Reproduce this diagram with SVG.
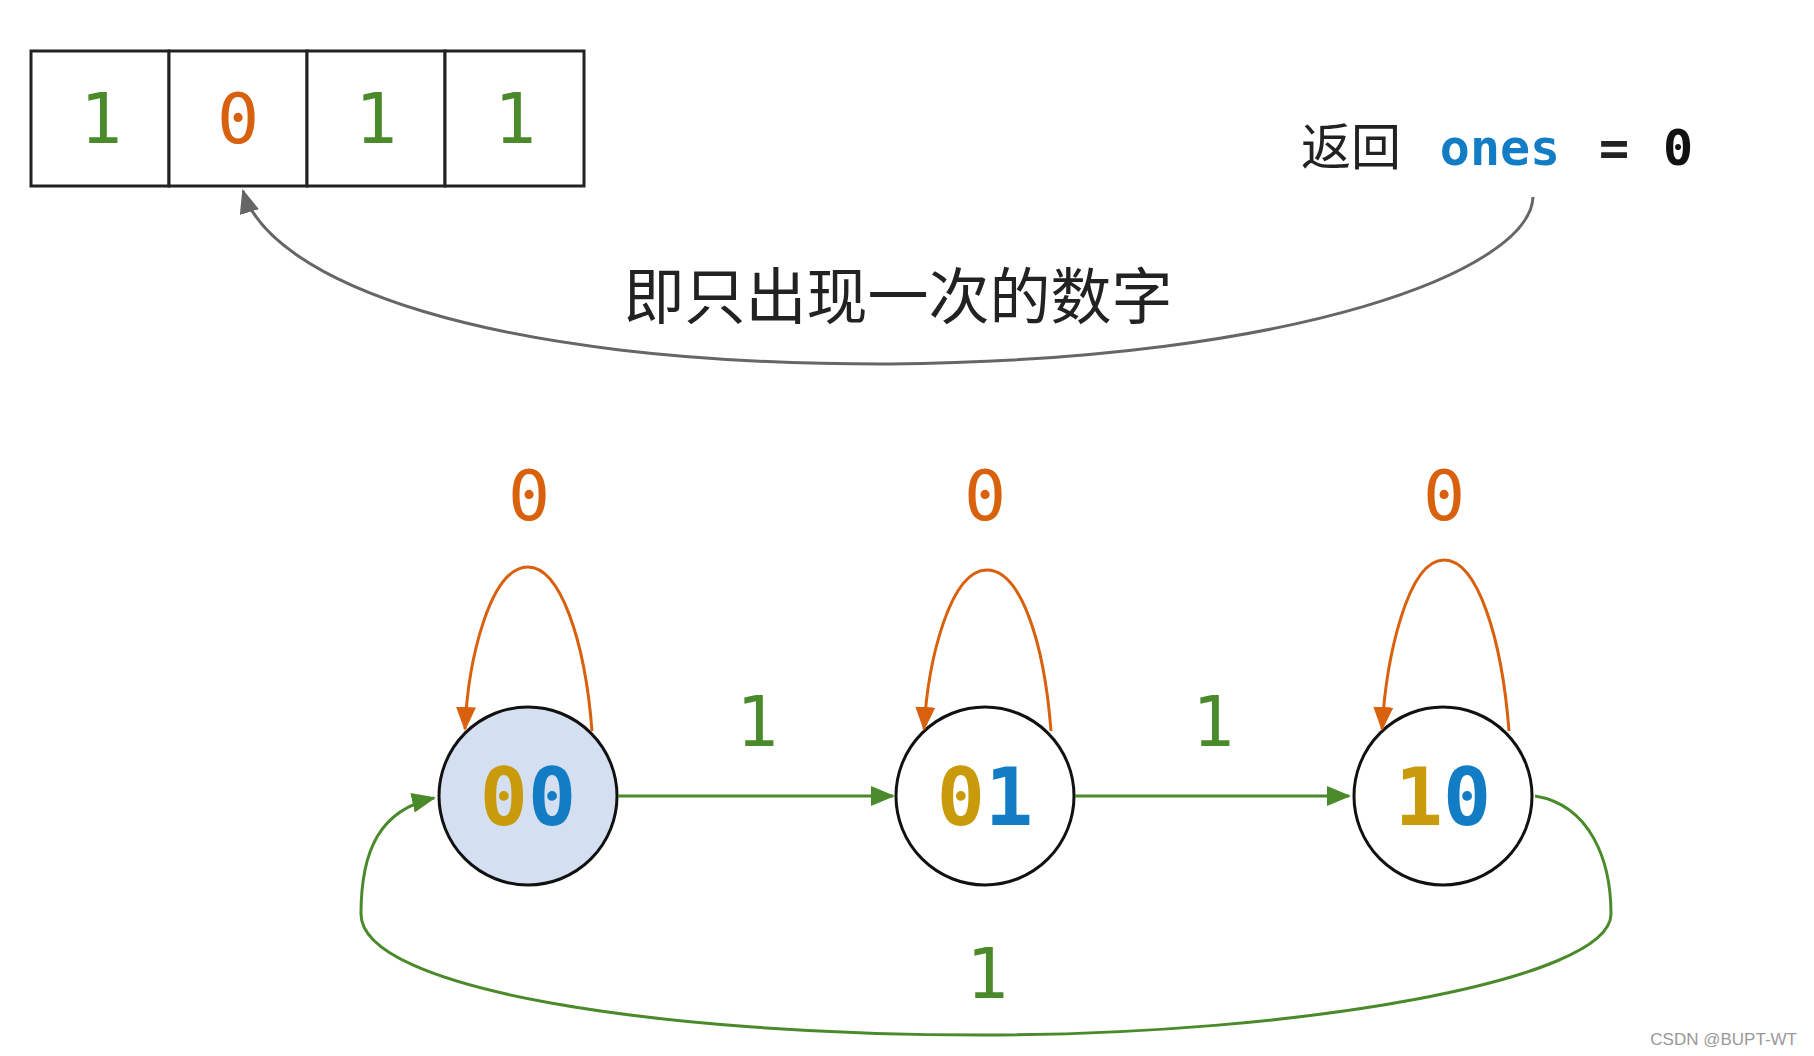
<svg xmlns="http://www.w3.org/2000/svg" width="1814" height="1056" viewBox="0 0 1814 1056">
<style>
.m{font-family:"DejaVu Sans Mono",monospace;text-anchor:middle}
.g{fill:#4a8a2a}.o{fill:#d9600c}.b{fill:#127cc4}.y{fill:#c99a0a}
.node{stroke:#111;stroke-width:3}
.cell{fill:#fff;stroke:#222;stroke-width:3}
</style>
<defs>
<marker id="g" viewBox="0 0 24 20" refX="22" refY="10" markerWidth="24" markerHeight="20" orient="auto" markerUnits="userSpaceOnUse"><path d="M0,0L24,10L0,20z" fill="#4a8a2a"/></marker>
<marker id="o" viewBox="0 0 24 20" refX="22" refY="10" markerWidth="24" markerHeight="20" orient="auto" markerUnits="userSpaceOnUse"><path d="M0,0L24,10L0,20z" fill="#d9600c"/></marker>
<marker id="k" viewBox="0 0 24 20" refX="22" refY="10" markerWidth="24" markerHeight="20" orient="auto" markerUnits="userSpaceOnUse"><path d="M0,0L24,10L0,20z" fill="#666"/></marker>
</defs>
<rect width="1814" height="1056" fill="#fff"/>
<g id="array">
<rect class="cell" x="31" y="51" width="138" height="135"/>
<rect class="cell" x="169" y="51" width="138" height="135"/>
<rect class="cell" x="307" y="51" width="138" height="135"/>
<rect class="cell" x="445" y="51" width="139" height="135"/>
<text class="m g" x="101" y="143" font-size="70">1</text>
<text class="m o" x="238" y="143" font-size="70">0</text>
<text class="m g" x="376" y="143" font-size="70">1</text>
<text class="m g" x="515" y="143" font-size="70">1</text>
</g>
<g id="ret">
<text x="1351" y="165" font-size="50" text-anchor="middle" font-family="'Noto Sans CJK SC',sans-serif" fill="#222">返回</text>
<text class="m b" x="1500" y="165" font-size="50" font-weight="bold">ones</text>
<text class="m" x="1614" y="165" font-size="50" font-weight="bold" fill="#222">=</text>
<text class="m" x="1678" y="165" font-size="50" font-weight="bold" fill="#111">0</text>
</g>
<g id="n00"><circle class="node" cx="528" cy="796" r="89" fill="#d5dff2"/><text class="m" x="528" y="825" font-size="80" font-weight="bold"><tspan class="y">0</tspan><tspan class="b">0</tspan></text></g>
<g id="n01"><circle class="node" cx="985" cy="796" r="89" fill="#fff"/><text class="m" x="985" y="825" font-size="80" font-weight="bold"><tspan class="y">0</tspan><tspan class="b">1</tspan></text></g>
<g id="n10"><circle class="node" cx="1443" cy="796" r="89" fill="#fff"/><text class="m" x="1443" y="825" font-size="80" font-weight="bold"><tspan class="y">1</tspan><tspan class="b">0</tspan></text></g>
<g id="connectors" fill="none" stroke-width="3">
<path d="M1533,197 C1530,270 1300,360 890,364 C480,365 270,280 243,191" stroke="#666" marker-end="url(#k)"/>
<path d="M618,796 L893,796" stroke="#4a8a2a" marker-end="url(#g)"/>
<path d="M1075,796 L1349,796" stroke="#4a8a2a" marker-end="url(#g)"/>
<path d="M592,731 C585,640 560,567 528,567 C490,567 468,660 465,729" stroke="#d9600c" marker-end="url(#o)"/>
<path d="M1051,731 C1044,640 1020,570 987,570 C950,570 928,660 924,729" stroke="#d9600c" marker-end="url(#o)"/>
<path d="M1509,731 C1502,640 1478,560 1444,560 C1407,560 1386,660 1382,729" stroke="#d9600c" marker-end="url(#o)"/>
<path d="M1535,796 C1590,805 1611,860 1611,914 C1611,980 1300,1035 983,1035 C660,1035 361,990 361,914 C361,850 380,810 434,798" stroke="#4a8a2a" marker-end="url(#g)"/>
</g>
<g id="labels">
<text x="898" y="319" font-size="61" text-anchor="middle" font-family="'Noto Sans CJK SC',sans-serif" fill="#222">即只出现一次的数字</text>
<text class="m o" x="529" y="520" font-size="70">0</text>
<text class="m o" x="985" y="520" font-size="70">0</text>
<text class="m o" x="1444" y="520" font-size="70">0</text>
<text class="m g" x="757" y="746" font-size="70">1</text>
<text class="m g" x="1213" y="746" font-size="70">1</text>
<text class="m g" x="987" y="998" font-size="70">1</text>
<text x="1797" y="1045" font-size="17" text-anchor="end" font-family="'Liberation Sans',sans-serif" fill="#999">CSDN @BUPT-WT</text>
</g>
</svg>
